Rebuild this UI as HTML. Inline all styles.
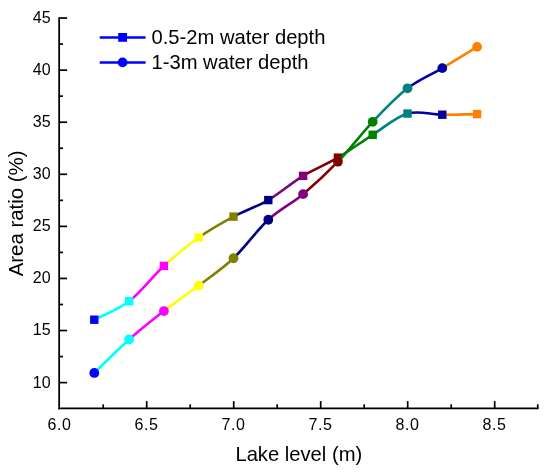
<!DOCTYPE html>
<html><head><meta charset="utf-8"><title>Area ratio vs lake level</title>
<style>html,body{margin:0;padding:0;background:#fff}svg{display:block}text{font-family:"Liberation Sans",Arial,sans-serif;fill:#000}</style>
</head><body>
<svg width="550" height="474" viewBox="0 0 550 474">
<rect width="550" height="474" fill="#fff"/>
<g stroke="#000" fill="none" stroke-linecap="butt">
<path d="M59.15 17.20V409.15000000000003" stroke-width="1.75"/>
<path d="M58.275 408.3H538.6" stroke-width="1.7"/>
<g stroke-width="1.7">
<path d="M59.15 382.61H67.1"/>
<path d="M59.15 356.57H63.0"/>
<path d="M59.15 330.53H67.1"/>
<path d="M59.15 304.49H63.0"/>
<path d="M59.15 278.45H67.1"/>
<path d="M59.15 252.41H63.0"/>
<path d="M59.15 226.37H67.1"/>
<path d="M59.15 200.33H63.0"/>
<path d="M59.15 174.29H67.1"/>
<path d="M59.15 148.25H63.0"/>
<path d="M59.15 122.21H67.1"/>
<path d="M59.15 96.17H63.0"/>
<path d="M59.15 70.13H67.1"/>
<path d="M59.15 44.09H63.0"/>
<path d="M59.15 18.05H67.1"/>
<path d="M103.20 408.3V404.3"/>
<path d="M146.70 408.3V401.1"/>
<path d="M190.20 408.3V404.3"/>
<path d="M233.70 408.3V401.1"/>
<path d="M277.20 408.3V404.3"/>
<path d="M320.70 408.3V401.1"/>
<path d="M364.20 408.3V404.3"/>
<path d="M407.70 408.3V401.1"/>
<path d="M451.20 408.3V404.3"/>
<path d="M494.70 408.3V401.1"/>
<path d="M537.75 408.3V404.3"/>
</g></g>
<g font-size="16px" fill="#000">
<text x="50.6" y="387.51" text-anchor="end">10</text>
<text x="50.6" y="335.43" text-anchor="end">15</text>
<text x="50.6" y="283.35" text-anchor="end">20</text>
<text x="50.6" y="231.27" text-anchor="end">25</text>
<text x="50.6" y="179.19" text-anchor="end">30</text>
<text x="50.6" y="127.11" text-anchor="end">35</text>
<text x="50.6" y="75.03" text-anchor="end">40</text>
<text x="50.6" y="22.95" text-anchor="end">45</text>
<text x="59.60" y="429.8" text-anchor="middle" letter-spacing="0.6">6.0</text>
<text x="146.60" y="429.8" text-anchor="middle" letter-spacing="0.6">6.5</text>
<text x="233.60" y="429.8" text-anchor="middle" letter-spacing="0.6">7.0</text>
<text x="320.60" y="429.8" text-anchor="middle" letter-spacing="0.6">7.5</text>
<text x="407.60" y="429.8" text-anchor="middle" letter-spacing="0.6">8.0</text>
<text x="494.60" y="429.8" text-anchor="middle" letter-spacing="0.6">8.5</text>
</g>
<text x="298.8" y="461.1" font-size="20.2px" text-anchor="middle">Lake level (m)</text>
<text transform="translate(22.9 213.45) rotate(-90)" font-size="20.4px" text-anchor="middle">Area ratio (%)</text>
<g fill="none" stroke-width="2.6">
<path d="M94.30 319.69C105.90 313.56 117.50 310.25 129.10 301.28" stroke="#00ffff"/>
<path d="M129.10 301.28C140.70 292.32 152.30 276.55 163.90 265.92" stroke="#ff00ff"/>
<path d="M163.90 265.92C175.50 255.30 187.10 245.75 198.70 237.53" stroke="#ffff00"/>
<path d="M198.70 237.53C210.30 229.32 221.90 222.87 233.50 216.63" stroke="#808000"/>
<path d="M233.50 216.63C245.10 210.39 256.70 206.89 268.30 200.09" stroke="#000080"/>
<path d="M268.30 200.09C279.90 193.30 291.50 182.93 303.10 175.86" stroke="#800080"/>
<path d="M303.10 175.86C314.70 168.79 326.30 164.51 337.90 157.66" stroke="#800000"/>
<path d="M337.90 157.66C349.50 150.81 361.10 142.13 372.70 134.78" stroke="#008000"/>
<path d="M372.70 134.78C384.30 127.43 395.90 116.91 407.50 113.56" stroke="#008080"/>
<path d="M407.50 113.56C419.10 110.22 430.70 114.62 442.30 114.71" stroke="#0000a0"/>
<path d="M442.30 114.71C453.90 114.79 465.50 114.29 477.10 114.08" stroke="#ff8000"/>
</g><g>
<rect x="90.10" y="315.49" width="8.4" height="8.4" fill="#0000ff"/>
<rect x="124.90" y="297.08" width="8.4" height="8.4" fill="#00ffff"/>
<rect x="159.70" y="261.72" width="8.4" height="8.4" fill="#ff00ff"/>
<rect x="194.50" y="233.33" width="8.4" height="8.4" fill="#ffff00"/>
<rect x="229.30" y="212.43" width="8.4" height="8.4" fill="#808000"/>
<rect x="264.10" y="195.89" width="8.4" height="8.4" fill="#000080"/>
<rect x="298.90" y="171.66" width="8.4" height="8.4" fill="#800080"/>
<rect x="333.70" y="153.46" width="8.4" height="8.4" fill="#800000"/>
<rect x="368.50" y="130.58" width="8.4" height="8.4" fill="#008000"/>
<rect x="403.30" y="109.36" width="8.4" height="8.4" fill="#008080"/>
<rect x="438.10" y="110.51" width="8.4" height="8.4" fill="#0000a0"/>
<rect x="472.90" y="109.88" width="8.4" height="8.4" fill="#ff8000"/>
</g><g fill="none" stroke-width="2.6">
<path d="M94.30 372.94C105.90 361.78 117.50 349.77 129.10 339.45" stroke="#00ffff"/>
<path d="M129.10 339.45C140.70 329.14 152.30 320.04 163.90 311.06" stroke="#ff00ff"/>
<path d="M163.90 311.06C175.50 302.08 187.10 294.39 198.70 285.58" stroke="#ffff00"/>
<path d="M198.70 285.58C210.30 276.77 221.90 269.20 233.50 258.23" stroke="#808000"/>
<path d="M233.50 258.23C245.10 247.26 256.70 230.43 268.30 219.75" stroke="#000080"/>
<path d="M268.30 219.75C279.90 209.07 291.50 203.84 303.10 194.16" stroke="#800080"/>
<path d="M303.10 194.16C314.70 184.49 326.30 173.78 337.90 161.72" stroke="#800000"/>
<path d="M337.90 161.72C349.50 149.65 361.10 134.02 372.70 121.78" stroke="#008000"/>
<path d="M372.70 121.78C384.30 109.54 395.90 97.24 407.50 88.29" stroke="#008080"/>
<path d="M407.50 88.29C419.10 79.35 430.70 75.01 442.30 68.12" stroke="#0000a0"/>
<path d="M442.30 68.12C453.90 61.22 465.50 53.97 477.10 46.90" stroke="#ff8000"/>
</g><g>
<circle cx="94.30" cy="372.94" r="4.9" fill="#0000ff"/>
<circle cx="129.10" cy="339.45" r="4.9" fill="#00ffff"/>
<circle cx="163.90" cy="311.06" r="4.9" fill="#ff00ff"/>
<circle cx="198.70" cy="285.58" r="4.9" fill="#ffff00"/>
<circle cx="233.50" cy="258.23" r="4.9" fill="#808000"/>
<circle cx="268.30" cy="219.75" r="4.9" fill="#000080"/>
<circle cx="303.10" cy="194.16" r="4.9" fill="#800080"/>
<circle cx="337.90" cy="161.72" r="4.9" fill="#800000"/>
<circle cx="372.70" cy="121.78" r="4.9" fill="#008000"/>
<circle cx="407.50" cy="88.29" r="4.9" fill="#008080"/>
<circle cx="442.30" cy="68.12" r="4.9" fill="#0000a0"/>
<circle cx="477.10" cy="46.90" r="4.9" fill="#ff8000"/>
</g>
<g stroke="#0000ff" stroke-width="2.5"><path d="M99.7 37.4H145.6"/><path d="M99.7 62.4H145.6"/></g>
<rect x="118.2" y="33.0" width="8.8" height="8.8" fill="#0000ff"/><circle cx="122.6" cy="62.4" r="4.9" fill="#0000ff"/>
<text x="151.5" y="44.4" font-size="20.2px">0.5-2m water depth</text>
<text x="151.5" y="68.9" font-size="20.2px">1-3m water depth</text>
</svg>
</body></html>
